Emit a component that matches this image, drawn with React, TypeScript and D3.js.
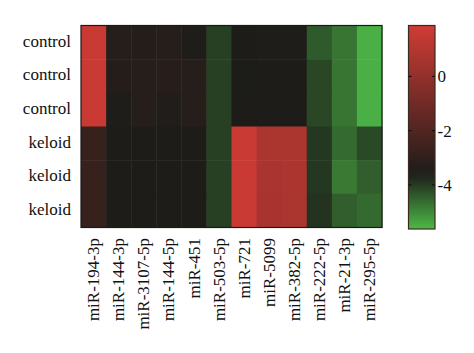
import React from "react";
import * as d3 from "d3";

const genes = [
  "miR-194-3p", "miR-144-3p", "miR-3107-5p", "miR-144-5p", "miR-451", "miR-503-5p",
  "miR-721", "miR-5099", "miR-382-5p", "miR-222-5p", "miR-21-3p", "miR-295-5p",
];
const samples = ["control", "control", "control", "keloid", "keloid", "keloid"];

const control1 = [1.7, -3.3, -3.35, -3.3, -3.5, -4.05, -3.55, -3.5, -3.5, -4.4, -4.75, -5.5];
const control2 = [1.7, -3.35, -3.3, -3.25, -3.3, -4.05, -3.6, -3.55, -3.55, -4.15, -4.75, -5.5];
const control3 = [1.7, -3.5, -3.3, -3.45, -3.3, -4.05, -3.55, -3.55, -3.55, -4.15, -4.75, -5.5];
const keloid1 = [-2.8, -3.55, -3.55, -3.55, -3.55, -4.05, 1.66, 0.75, 0.75, -3.95, -4.6, -4.2];
const keloid2 = [-2.8, -3.55, -3.55, -3.55, -3.55, -4.05, 1.66, 0.72, 0.78, -3.95, -4.8, -4.45];
const keloid3 = [-2.8, -3.55, -3.55, -3.55, -3.55, -4.05, 1.66, 0.7, 0.75, -3.9, -4.45, -4.6];
const matrix = [control1, control2, control3, keloid1, keloid2, keloid3];

const colorTicks = [0, -2, -4];
const colorDomain = [-5.63, 1.88];

export default function App() {
  const W = 474, H = 353;
  const hm = { left: 81, right: 382, top: 25.5, bottom: 227.5 };
  const cb = { left: 408.5, right: 435, top: 25.5, bottom: 229 };
  const ts: React.CSSProperties = { fontFamily: '"Liberation Serif"', fontSize: "17px" };

  const x = d3.scaleBand<string>().domain(genes.map((g, i) => String(i))).range([hm.left, hm.right]);
  const y = d3.scaleBand<string>().domain(samples.map((s, i) => String(i))).range([hm.top, hm.bottom]);

  const color = d3
    .scaleLinear<string>()
    .domain([colorDomain[0], -3.6, colorDomain[1]])
    .range(["#4db947", "#1c1c19", "#d03b35"])
    .interpolate(d3.interpolateRgb)
    .clamp(true);

  const cy = d3.scaleLinear().domain(colorDomain).range([cb.bottom, cb.top]);
  const stops = d3.range(0, 21).map((i) => {
    const v = colorDomain[1] - (i / 20) * (colorDomain[1] - colorDomain[0]);
    return { offset: `${i * 5}%`, color: color(v) };
  });

  return (
    <svg
      width={W}
      height={H}
      style={{ position: "absolute", left: 0, top: 0, background: "#fff" }}
    >
      <defs>
        <linearGradient id="cbgrad" x1="0" y1="0" x2="0" y2="1">
          {stops.map((s, i) => (
            <stop key={i} offset={s.offset} stopColor={s.color} />
          ))}
        </linearGradient>
      </defs>
      <rect width={W} height={H} fill="#fff" />
      {matrix.map((row, r) =>
        row.map((v, c) => (
          <rect
            key={`${r}-${c}`}
            x={x(String(c))}
            y={y(String(r))}
            width={x.bandwidth() + 0.5}
            height={y.bandwidth() + 0.5}
            fill={color(v)}
          />
        ))
      )}
      <rect
        x={hm.left}
        y={hm.top}
        width={hm.right - hm.left}
        height={hm.bottom - hm.top}
        fill="none"
        stroke="#1a1a1a"
        strokeWidth={1.2}
      />
      {samples.map((s, i) => (
        <text
          key={i}
          x={hm.left - 10}
          y={(y(String(i)) || 0) + y.bandwidth() / 2}
          dy="0.25em"
          textAnchor="end"
          style={ts}
          fill="#111"
        >
          {s}
        </text>
      ))}
      {genes.map((g, i) => (
        <text
          key={g}
          transform={`translate(${(x(String(i)) || 0) + x.bandwidth() / 2},${hm.bottom + 10.5}) rotate(-90)`}
          dy="0.33em"
          textAnchor="end"
          style={ts}
          fill="#111"
        >
          {g}
        </text>
      ))}
      <rect
        x={cb.left}
        y={cb.top}
        width={cb.right - cb.left}
        height={cb.bottom - cb.top}
        fill="url(#cbgrad)"
        stroke="#3a2a22"
        strokeWidth={1.2}
      />
      {colorTicks.map((t) => (
        <g key={t}>
          <line x1={cb.left} x2={cb.left + 3} y1={cy(t)} y2={cy(t)} stroke="#111" strokeWidth={1.2} />
          <line x1={cb.right - 3} x2={cb.right} y1={cy(t)} y2={cy(t)} stroke="#111" strokeWidth={1.2} />
          <text x={cb.right + 2.5} y={cy(t)} dy="0.35em" style={ts} fill="#111">
            {t}
          </text>
        </g>
      ))}
    </svg>
  );
}
